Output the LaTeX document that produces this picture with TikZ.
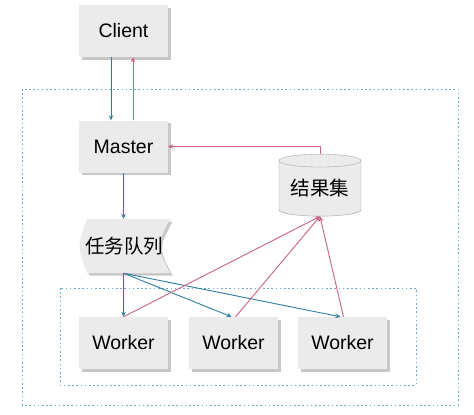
\documentclass[tikz,border=0pt]{standalone}
\usepackage{fontspec}
\setmainfont{Liberation Sans}
\newfontfamily\cjk{Noto Sans CJK SC}
\usetikzlibrary{shapes.geometric,shadows,arrows.meta,calc,backgrounds}

\definecolor{boxgray}{RGB}{235,235,235}
\definecolor{shadowgray}{RGB}{200,200,200}
\definecolor{linkblue}{RGB}{46,125,158}
\definecolor{linkpink}{RGB}{200,98,135}
\definecolor{frameblue}{RGB}{110,170,205}

\tikzset{
  box/.style={fill=boxgray, minimum width=89pt, minimum height=52pt, inner sep=0pt,
    drop shadow={shadow xshift=2.5pt, shadow yshift=-2.5pt, fill=shadowgray, opacity=1}},
  tocall/.style={draw=linkblue, line width=0.9pt, -{Stealth[length=5pt,width=4.5pt]}},
  toback/.style={draw=linkpink, line width=0.9pt, -{Stealth[length=5pt,width=4.5pt]}},
  framebox/.style={draw=frameblue, line width=0.9pt, dash pattern=on 1.6pt off 2.6pt}
}

\begin{document}
\begin{tikzpicture}[x=1pt,y=-1pt]
  \useasboundingbox (0,0) rectangle (474,415);
  \fontsize{19.5}{23}\selectfont

  % frames
  \draw[framebox] (22,89) rectangle (458,405);
  \draw[framebox] (60,288) rectangle (416,385);

  % boxes
  \node[box] (client) at (123.5,31) {Client};
  \node[box] (master) at (123.5,146.5) {Master};
  \node[box] (w1) at (123.5,343) {Worker};
  \node[box] (w2) at (233.5,343) {Worker};
  \node[box] (w3) at (342.5,343) {Worker};

  % result set
  \node[cylinder, shape border rotate=90, draw=gray!70, fill=boxgray, aspect=0.22,
    minimum width=82pt, minimum height=62pt, inner sep=0pt] (res) at (320,188.5) {\cjk 结果集};

  % task queue
  \node[inner sep=0pt, minimum width=83pt, minimum height=54pt] (queue) at (124,246) {\cjk 任务队列};
  \begin{scope}[on background layer]
    \fill[boxgray, drop shadow={shadow xshift=2.5pt, shadow yshift=-2.5pt, fill=shadowgray, opacity=1}]
      ($(queue.center)+(-37,-27)$) .. controls ($(queue.center)+(-47,0)$) .. ($(queue.center)+(-37,27)$)
      -- ($(queue.center)+(46,27)$) .. controls ($(queue.center)+(32,0)$) .. ($(queue.center)+(46,-27)$)
      -- cycle;
  \end{scope}

  % calls
  \draw[tocall] ([xshift=-12.5pt]client.south) -- ([xshift=-12.5pt]master.north);
  \draw[toback] ([xshift=9.5pt]master.north) -- ([xshift=9.5pt]client.south);
  \draw[tocall] (master.south) -- (master.south |- queue.north);
  \coordinate (qout) at (master.south |- queue.south);
  \draw[tocall] (qout) -- (w1.north);
  \draw[tocall] (qout) -- ([xshift=-2pt]w2.north);
  \draw[tocall] (qout) -- ([xshift=-2pt]w3.north);

  % results back
  \draw[toback] (w1.north) -- (res.south);
  \draw[toback] ([xshift=2pt]w2.north) -- (res.south);
  \draw[toback] ([xshift=1pt]w3.north) -- (res.south);
  \draw[toback] (res.north) |- (master.east);
\end{tikzpicture}
\end{document}
